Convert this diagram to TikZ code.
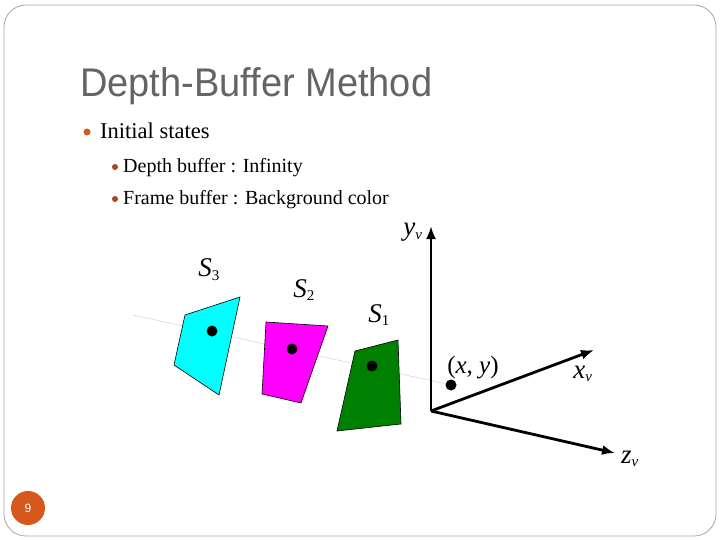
\documentclass[tikz,border=0pt]{standalone}
\usepackage{fontspec}
\setmainfont{Liberation Serif}
\newfontfamily\titlefont{Liberation Sans}
\definecolor{accent}{RGB}{214,88,30}
\definecolor{titlegray}{RGB}{100,100,100}
\definecolor{sgreen}{RGB}{0,128,0}
\definecolor{scyan}{RGB}{0,255,255}
\definecolor{smag}{RGB}{255,0,255}
\tikzset{
  face/.style={draw=black,line width=0.6pt},
  blob/.style={circle,fill=black,inner sep=0pt,minimum size=11pt},
  axis/.style={line width=2.8pt,-{Latex[length=13pt,width=10pt]}},
  lab/.style={font=\fontsize{27}{30}\selectfont\itshape,inner sep=0pt},
  bul/.style={circle,fill=accent,inner sep=0pt,minimum size=7pt},
  bulsm/.style={circle,fill=accent!80!black,inner sep=0pt,minimum size=6pt}
}
\newcommand{\sbs}[1]{\textsubscript{\fontsize{15}{16}\selectfont #1}}
\usetikzlibrary{arrows.meta}
\begin{document}
\begin{tikzpicture}[x=1pt,y=-1pt]
\useasboundingbox (0,0) rectangle (720,540);
\fill[white] (0,0) rectangle (720,540);
\draw[gray!70,line width=0.8pt,rounded corners=22pt] (4,5) rectangle (716,536);
\node[anchor=base west,text=titlegray,inner sep=0pt,xscale=0.95,font=\titlefont\fontsize{40}{44}\selectfont] (title) at (80,97) {Depth-Buffer Method};
\node[bul] (b1) at (87,132) {};
\node[anchor=base west,inner sep=0pt,font=\fontsize{22.5}{26}\selectfont] (t1) at (100,139) {Initial states};
\node[bulsm] (b2) at (115,167) {};
\node[anchor=base west,inner sep=0pt,font=\fontsize{20}{24}\selectfont] (t2) at (123,173) {Depth buffer : Infinity};
\node[bulsm] (b3) at (115,199) {};
\node[anchor=base west,inner sep=0pt,font=\fontsize{20}{24}\selectfont] (t3) at (123,205) {Frame buffer : Background color};
% sight line
\coordinate (ls) at (133,315);
\coordinate (pxy) at (451,385);
\draw[gray!35,line width=0.5pt] (ls) -- (pxy);
% faces
\draw[face,fill=scyan] (185,315) -- (240,297) -- (219,395) -- (174,365) -- cycle;
\draw[face,fill=smag] (266,322) -- (328,326) -- (301,403) -- (262,394) -- cycle;
\draw[face,fill=sgreen] (355,351) -- (398,340) -- (401,424) -- (337,431) -- cycle;
\node[blob] (d3) at (212,331) {};
\node[blob] (d2) at (292,349) {};
\node[blob] (d1) at (372,366) {};
\node[blob] (dp) at (pxy) {};
% axes
\coordinate (o) at (431,411);
\coordinate (ye) at (431,226);
\coordinate (xe) at (594,350);
\coordinate (ze) at (615,453);
\draw[axis] (o) -- (ye);
\draw[axis] (o) -- (xe);
\draw[axis] (o) -- (ze);
\node[lab] (ly) at (413,232) {y\sbs{v}};
\node[lab] (lx) at (583,374) {x\sbs{v}};
\node[lab] (lz) at (630,459) {z\sbs{v}};
\node[font=\fontsize{25}{28}\selectfont,inner sep=0pt] (lp) at (473,368) {(\textit{x}, \textit{y})};
\node[lab] (s3) at (209,270) {S\sbs{\upshape 3}};
\node[lab] (s2) at (304,290) {S\sbs{\upshape 2}};
\node[lab] (s1) at (379,315) {S\sbs{\upshape 1}};
% page number
\node[circle,fill=accent,minimum size=34pt,inner sep=0pt,text=white,font=\titlefont\fontsize{12}{14}\selectfont] (pg) at (28,508) {9};
\end{tikzpicture}
\end{document}
